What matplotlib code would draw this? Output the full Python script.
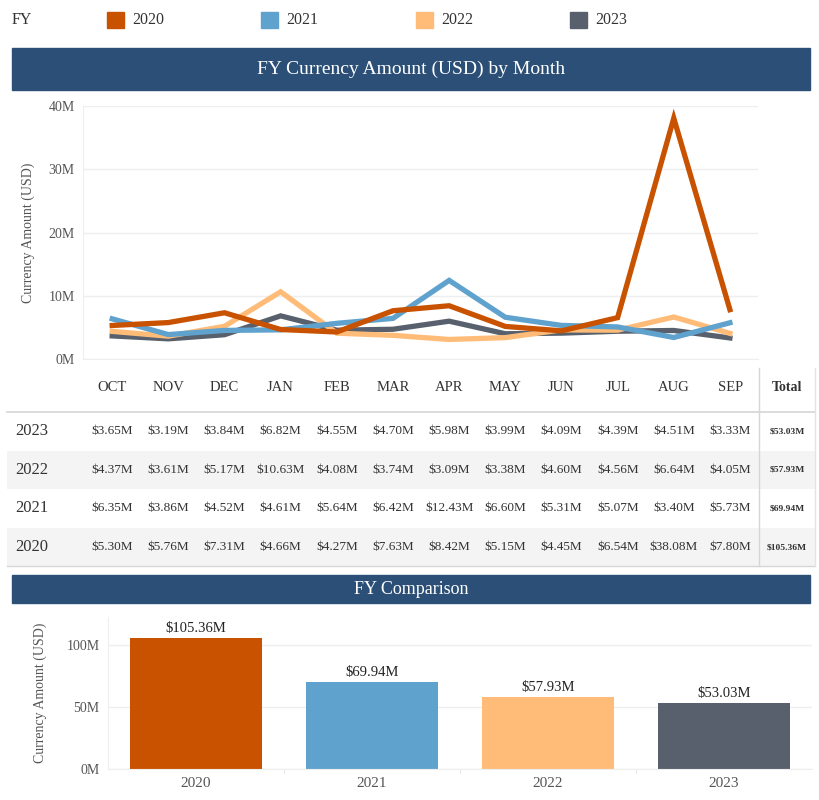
import matplotlib.pyplot as plt
from matplotlib.patches import Rectangle
from matplotlib.ticker import FuncFormatter

plt.rcParams['font.family'] = ['Liberation Serif', 'DejaVu Serif']

# ---------------- data ----------------
months = ["OCT", "NOV", "DEC", "JAN", "FEB", "MAR", "APR", "MAY", "JUN", "JUL", "AUG", "SEP"]
years = ["2020", "2021", "2022", "2023"]
colors = ["#c85200", "#5fa2ce", "#ffbc79", "#57606c"]

fy2020 = [5.30, 5.76, 7.31, 4.66, 4.27, 7.63, 8.42, 5.15, 4.45, 6.54, 38.08, 7.80]
fy2021 = [6.35, 3.86, 4.52, 4.61, 5.64, 6.42, 12.43, 6.60, 5.31, 5.07, 3.40, 5.73]
fy2022 = [4.37, 3.61, 5.17, 10.63, 4.08, 3.74, 3.09, 3.38, 4.60, 4.56, 6.64, 4.05]
fy2023 = [3.65, 3.19, 3.84, 6.82, 4.55, 4.70, 5.98, 3.99, 4.09, 4.39, 4.51, 3.33]
totals = [105.36, 69.94, 57.93, 53.03]

series = [fy2020, fy2021, fy2022, fy2023]

W, H = 820, 800
fig = plt.figure(figsize=(W / 100, H / 100), dpi=100)


def box(x0, y0, x1, y1):
    # pixel box (top-left origin) -> figure axes
    return fig.add_axes([x0 / W, 1 - y1 / H, (x1 - x0) / W, (y1 - y0) / H])


def banner(y0, y1, text, size):
    fig.patches.append(Rectangle((12 / W, 1 - y1 / H), 798 / W, (y1 - y0) / H,
                                 transform=fig.transFigure, color="#2b4f76", zorder=0))
    fig.text(411 / W, 1 - (y0 + y1) / 2 / H, text, color="white", fontsize=size,
             ha="center", va="center")


fmt_m = FuncFormatter(lambda v, p: f"{v / 1e6:.0f}M")
grey_txt = "#555555"

# ---------------- legend row ----------------
fig.text(12 / W, 1 - 20 / H, "FY", fontsize=11.5, color="#333333", va="center")
for i, (yr, c) in enumerate(zip(years, colors)):
    x = 107 + i * 154.5
    fig.patches.append(Rectangle((x / W, 1 - 28 / H), 17 / W, 16 / H,
                                 transform=fig.transFigure, color=c))
    fig.text((x + 25) / W, 1 - 20 / H, yr, fontsize=11.5, color="#333333", va="center")

# ---------------- line chart ----------------
banner(48, 90, "FY Currency Amount (USD) by Month", 14)

ax = box(83, 106, 758, 359)
order = [3, 2, 1, 0]
for k in order:
    ax.plot(range(len(months)), [v * 1e6 for v in series[k]], color=colors[k],
            lw=3.8, solid_joinstyle="miter", clip_on=False, zorder=2 + (3 - k))
ax.set_xlim(-0.52, 11.5)
ax.set_ylim(0, 40e6)
ax.set_yticks([0, 10e6, 20e6, 30e6, 40e6])
ax.yaxis.set_major_formatter(fmt_m)
ax.set_xticks([])
ax.grid(axis="y", color="#eeeeee", lw=1)
ax.set_axisbelow(True)
for s in ["top", "right"]:
    ax.spines[s].set_visible(False)
ax.spines["left"].set_color("#eeeeee")
ax.spines["bottom"].set_color("#eeeeee")
ax.tick_params(axis="y", length=0, labelsize=10, labelcolor=grey_txt, pad=6)
ax.set_ylabel("Currency Amount (USD)", fontsize=10, color=grey_txt, labelpad=10)

# ---------------- table ----------------
tb = box(0, 365, 820, 570)
tb.set_xlim(0, 820)
tb.set_ylim(570, 365)
tb.axis("off")

col_x = [112 + i * 56.2 for i in range(len(months))]
total_x = 787
header_y = 387
row_top = 412
row_h = 38.6

for x, m in zip(col_x, months):
    tb.text(x, header_y, m, ha="center", va="center", fontsize=10.5, color="#333333")
tb.text(total_x, header_y, "Total", ha="center", va="center", fontsize=10,
        fontweight="bold", color="#333333")

table_rows = [3, 2, 1, 0]  # 2023 first
for r, k in enumerate(table_rows):
    y0 = row_top + r * row_h
    yc = y0 + row_h / 2
    if r % 2 == 1:
        tb.add_patch(Rectangle((7, y0), 808, row_h, color="#f4f4f4", lw=0, zorder=0))
    tb.text(15, yc, years[k], ha="left", va="center", fontsize=12, color="#333333")
    for x, v in zip(col_x, series[k]):
        tb.text(x, yc, f"${v:.2f}M", ha="center", va="center", fontsize=9.5,
                color="#333333")
    tb.text(total_x, yc, f"${totals[k]:.2f}M", ha="center", va="center",
            fontsize=6.8, fontweight="bold", color="#333333")

tb.plot([7, 815], [row_top, row_top], color="#d6d6d6", lw=1.2)
tb.plot([7, 815], [row_top + 4 * row_h, row_top + 4 * row_h], color="#d6d6d6", lw=1)
tb.plot([759, 759], [368, row_top + 4 * row_h], color="#d6d6d6", lw=1)
tb.plot([815, 815], [368, row_top + 4 * row_h], color="#e4e4e4", lw=1)

# ---------------- bar chart ----------------
banner(575, 603, "FY Comparison", 13)

bx = box(108, 617, 812, 769)
xs = range(len(years))
vals = [t * 1e6 for t in totals]
bars = bx.bar(xs, vals, width=0.75, color=colors, zorder=2)
for x, v, t in zip(xs, vals, totals):
    bx.text(x, v + 2.5e6, f"${t:.2f}M", ha="center", va="bottom", fontsize=10.5,
            color="#222222")
bx.set_xlim(-0.5, 3.5)
bx.set_ylim(0, 122.6e6)
bx.set_yticks([0, 50e6, 100e6])
bx.yaxis.set_major_formatter(fmt_m)
bx.set_xticks(list(xs))
bx.set_xticklabels(years)
bx.set_xticks([0.5, 1.5, 2.5], minor=True)
bx.tick_params(axis="x", which="major", length=0, labelsize=11, labelcolor=grey_txt, pad=6)
bx.tick_params(axis="x", which="minor", length=3, color="#e0e0e0")
bx.tick_params(axis="y", length=0, labelsize=10, labelcolor=grey_txt, pad=6)
bx.grid(axis="y", color="#eeeeee", lw=1)
bx.set_axisbelow(True)
for s in ["top", "right"]:
    bx.spines[s].set_visible(False)
bx.spines["left"].set_color("#eeeeee")
bx.spines["bottom"].set_color("#eeeeee")
bx.set_ylabel("Currency Amount (USD)", fontsize=10, color=grey_txt, labelpad=14)

fig.savefig("out.png", dpi=100)
